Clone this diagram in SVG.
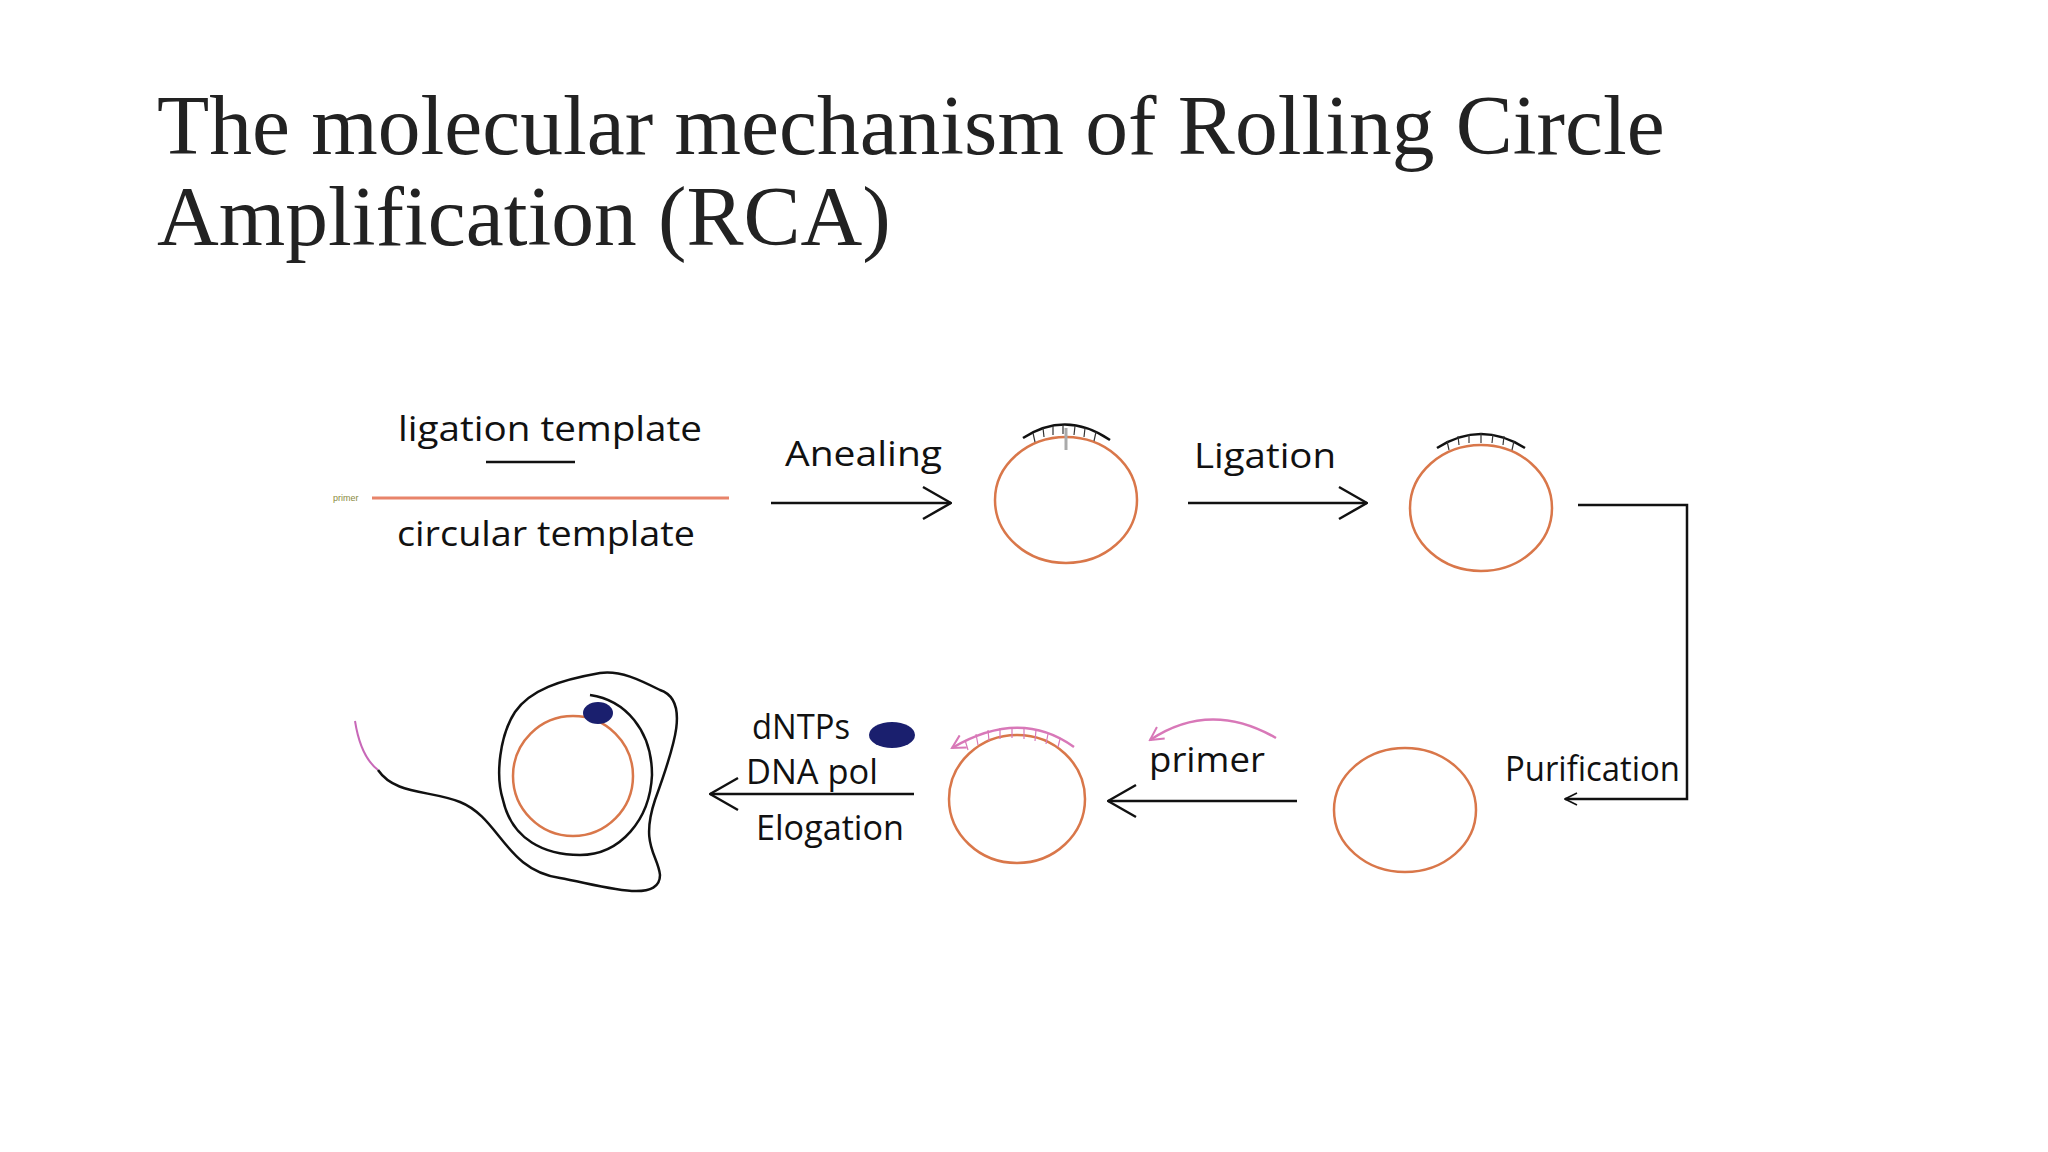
<svg xmlns="http://www.w3.org/2000/svg" width="2048" height="1152" viewBox="0 0 2048 1152">
<defs>
<style>
.title{font-family:"Liberation Serif",serif;font-size:85.5px;fill:#222}
.lbl{font-family:"Open Sans","Noto Sans",sans-serif;font-size:34px;fill:#111}
.ring{fill:none;stroke:#d9774a;stroke-width:2.5}
.ln{fill:none;stroke:#111;stroke-width:2.5}
.pk{fill:none;stroke:#d878b8;stroke-width:2.5}
</style>
<marker id="ah" markerWidth="14" markerHeight="14" refX="13" refY="7" orient="auto" markerUnits="userSpaceOnUse" viewBox="0 0 14 14"><path d="M1,1 L13,7 L1,13" fill="none" stroke="#111" stroke-width="1.6"/></marker>
<marker id="big" markerWidth="30" markerHeight="36" refX="29" refY="18" orient="auto" markerUnits="userSpaceOnUse" viewBox="0 0 30 36"><path d="M1,2 L29,18 L1,34" fill="none" stroke="#111" stroke-width="2.5"/></marker>
<marker id="pah" markerWidth="16" markerHeight="16" refX="14" refY="8" orient="auto" markerUnits="userSpaceOnUse" viewBox="0 0 16 16"><path d="M1,1 L14,8 L1,15" fill="none" stroke="#d878b8" stroke-width="2"/></marker>
</defs>
<rect width="2048" height="1152" fill="#fff"/>
<text class="title" x="157" y="154">The molecular mechanism of Rolling Circle</text>
<text class="title" x="157" y="245">Amplification (RCA)</text>

<g id="start">
<text class="lbl" x="398" y="441" textLength="304" lengthAdjust="spacingAndGlyphs">ligation template</text>
<line x1="486" y1="462" x2="575" y2="462" class="ln"/>
<text x="333" y="501" font-family="Liberation Sans,sans-serif" font-size="9" fill="#8a8a40">primer</text>
<line x1="372" y1="498" x2="729" y2="498" stroke="#e8846a" stroke-width="3"/>
<text class="lbl" x="397" y="546" textLength="298" lengthAdjust="spacingAndGlyphs">circular template</text>
</g>

<g id="c1">
<ellipse cx="1066" cy="500" rx="71" ry="63" class="ring"/>
<path d="M1023,438 Q1066,410 1110,440" class="ln"/>
<path d="M1033,433 l2,9 M1043,428 l1,9 M1053,426 l0,9 M1063,425 l0,9 M1075,426 l-1,9 M1085,428 l-1,9 M1096,432 l-2,9" stroke="#333" stroke-width="1.2"/>
<line x1="1066" y1="428" x2="1066" y2="450" stroke="#aaa" stroke-width="3"/>
</g>
<g id="c2">
<ellipse cx="1481" cy="508" rx="71" ry="63" class="ring"/>
<path d="M1437,448 Q1481,420 1525,448" class="ln"/>
<path d="M1447,441 l2,9 M1458,436 l1,9 M1469,434 l0,9 M1481,433 l0,10 M1493,434 l-1,9 M1504,436 l-1,9 M1514,441 l-2,9" stroke="#333" stroke-width="1.2"/>
</g>
<g id="c3">
<ellipse cx="1405" cy="810" rx="71" ry="62" class="ring"/>
</g>
<g id="c4">
<ellipse cx="1017" cy="799" rx="68" ry="64" class="ring"/>
<path d="M1074,747 Q1020,708 952,748" class="pk" marker-end="url(#pah)"/>
<path d="M965,740 l3,10 M976,734 l2,11 M988,730 l1,11 M1000,728 l0,11 M1012,727 l0,11 M1024,728 l0,11 M1036,730 l-1,11 M1048,734 l-2,10 M1060,739 l-2,8" stroke="#d878b8" stroke-width="1.2"/>
</g>
<g id="product">
<path d="M355,721 C358,740 365,760 378,770" stroke="#c868b8" stroke-width="2" fill="none"/>
<path d="M378,770 C395,795 430,790 460,802 C500,818 505,870 560,878 C600,885 660,905 660,875 C658,855 640,845 655,800 C675,745 690,700 660,690 C640,680 620,670 600,673 C560,680 530,690 515,712 C500,735 495,775 503,800 C512,840 545,855 580,855 C620,855 650,820 652,775 C652,730 625,700 590,695" class="ln"/>
<ellipse cx="573" cy="776" rx="60" ry="60" class="ring"/>
<ellipse cx="598" cy="713" rx="15" ry="11" fill="#1a1f6e"/>
</g>
<g id="labels">
<text class="lbl" x="785" y="466" textLength="157" lengthAdjust="spacingAndGlyphs">Anealing</text>
<text class="lbl" x="1194" y="468" textLength="142" lengthAdjust="spacingAndGlyphs">Ligation</text>
<text class="lbl" x="1505" y="781" textLength="175" lengthAdjust="spacingAndGlyphs">Purification</text>
<text class="lbl" x="1149" y="772" textLength="116" lengthAdjust="spacingAndGlyphs">primer</text>
<text class="lbl" x="752" y="739" textLength="98" lengthAdjust="spacingAndGlyphs">dNTPs</text>
<ellipse cx="892" cy="735" rx="23" ry="13" fill="#1a1f6e"/>
<text class="lbl" x="746" y="784" textLength="132" lengthAdjust="spacingAndGlyphs">DNA pol</text>
<text class="lbl" x="756" y="840" textLength="148" lengthAdjust="spacingAndGlyphs">Elogation</text>
</g>
<g id="connectors">
<line x1="771" y1="503" x2="951" y2="503" class="ln" marker-end="url(#big)"/>
<line x1="1188" y1="503" x2="1367" y2="503" class="ln" marker-end="url(#big)"/>
<polyline points="1578,505 1687,505 1687,799 1565,799" class="ln" marker-end="url(#ah)"/>
<line x1="1297" y1="801" x2="1108" y2="801" class="ln" marker-end="url(#big)"/>
<line x1="914" y1="794" x2="710" y2="794" class="ln" marker-end="url(#big)"/>
<path d="M1276,738 Q1210,700 1150,740" class="pk" marker-end="url(#pah)"/>
</g>
</svg>
